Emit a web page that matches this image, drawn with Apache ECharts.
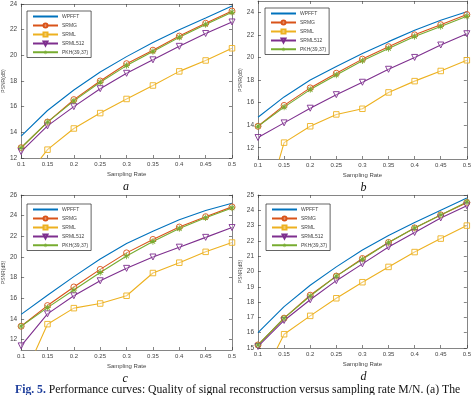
<!DOCTYPE html>
<html lang="en">
<head>
  <meta charset="UTF-8">
  <title>Performance curves</title>
  <script src="https://cdn.jsdelivr.net/npm/echarts@6.0.0/dist/echarts.min.js"></script>
  <style>
    html, body { margin: 0; padding: 0; background: #fff; }
    #main { width: 474px; height: 395px; }
  </style>
</head>
<body>
  <div id="main"></div>
  <script type="text/javascript">
    // sampling rates (x axis)
    var rates = ['0.1', '0.15', '0.2', '0.25', '0.3', '0.35', '0.4', '0.45', '0.5'];
    var names = ['WPFFT', 'SRMG', 'SRML', 'SRML512', 'PKH(39,37)'];

    // panel a
    var wpfftA = [13.7, 15.7, 17.3, 18.7, 19.9, 21.0, 22.0, 22.9, 23.85];
    var srmgA = [12.8, 14.8, 16.55, 18.0, 19.35, 20.4, 21.5, 22.5, 23.45];
    var srmlA = [10.0, 12.65, 14.3, 15.5, 16.6, 17.65, 18.75, 19.6, 20.55];
    var srml512A = [12.5, 14.5, 16.0, 17.4, 18.6, 19.65, 20.7, 21.7, 22.6];
    var pkhA = [12.8, 14.8, 16.45, 17.9, 19.2, 20.3, 21.4, 22.4, 23.35];
    var ticksA = [12, 14, 16, 18, 20, 22, 24];

    // panel b
    var wpfftB = [14.7, 16.5, 18.0, 19.2, 20.35, 21.4, 22.4, 23.3, 24.05];
    var srmgB = [13.9, 15.75, 17.3, 18.6, 19.85, 20.95, 22.0, 22.9, 23.8];
    var srmlB = [4.5, 12.45, 13.9, 14.95, 15.45, 16.9, 17.9, 18.8, 19.75];
    var srml512B = [12.9, 14.2, 15.5, 16.7, 17.8, 18.95, 20.0, 21.1, 22.1];
    var pkhB = [13.9, 15.6, 17.15, 18.45, 19.7, 20.8, 21.85, 22.75, 23.65];
    var ticksB = [12, 14, 16, 18, 20, 22, 24];

    // panel c
    var wpfftC = [14.45, 16.3, 18.1, 19.8, 21.3, 22.5, 23.6, 24.5, 25.2];
    var srmgC = [13.3, 15.3, 17.1, 18.8, 20.4, 21.7, 22.9, 23.9, 24.85];
    var srmlC = [7.8, 13.5, 15.05, 15.5, 16.25, 18.45, 19.45, 20.5, 21.4];
    var srml512C = [11.4, 14.5, 16.25, 17.7, 18.9, 20.0, 20.95, 21.9, 22.85];
    var pkhC = [13.3, 15.1, 16.8, 18.5, 20.1, 21.5, 22.75, 23.8, 24.75];
    var ticksC = [12, 14, 16, 18, 20, 22, 24, 26];

    // panel d
    var wpfftD = [16.0, 17.7, 19.1, 20.3, 21.4, 22.35, 23.2, 24.0, 24.8];
    var srmgD = [15.2, 16.95, 18.45, 19.7, 20.85, 21.9, 22.85, 23.7, 24.5];
    var srmlD = [12.5, 15.9, 17.1, 18.25, 19.3, 20.3, 21.27, 22.15, 23.0];
    var srml512D = [15.1, 16.8, 18.15, 19.4, 20.5, 21.6, 22.55, 23.5, 24.3];
    var pkhD = [15.2, 16.95, 18.4, 19.7, 20.8, 21.9, 22.85, 23.7, 24.55];
    var ticksD = [15, 16, 17, 18, 19, 20, 21, 22, 23, 24, 25];

    var colors = ['#0072BD', '#D95319', '#EDB120', '#7E2F8E', '#77AC30'];
    // asterisk made of four thin filled bars
    var asterisk = 'path://M4.4,0L5.6,0L5.6,10L4.4,10Z' +
      'M0,4.4L10,4.4L10,5.6L0,5.6Z' +
      'M1.08,1.92L1.92,1.08L8.92,8.08L8.08,8.92Z' +
      'M8.08,1.08L8.92,1.92L1.92,8.92L1.08,8.08Z';
    var symbols = ['circle', 'circle', 'rect', 'triangle', asterisk];
    var font = 'Liberation Sans, Arial, sans-serif';
    var axisColor = '#333';

    var panels = [
      { letter: 'a', grid: { left: 20, top: 4, width: 212, height: 154 }, y: [12, 24], ticks: ticksA,
        legend: { left: 27, top: 11 }, data: [wpfftA, srmgA, srmlA, srml512A, pkhA] },
      { letter: 'b', grid: { left: 258, top: 1, width: 211, height: 158 }, y: [11, 25], ticks: ticksB,
        legend: { left: 265, top: 8 }, data: [wpfftB, srmgB, srmlB, srml512B, pkhB] },
      { letter: 'c', grid: { left: 19, top: 195, width: 213, height: 155 }, y: [11, 26], ticks: ticksC,
        legend: { left: 27, top: 204 }, data: [wpfftC, srmgC, srmlC, srml512C, pkhC] },
      { letter: 'd', grid: { left: 258, top: 195, width: 211, height: 153 }, y: [15, 25], ticks: ticksD,
        legend: { left: 266, top: 204 }, data: [wpfftD, srmgD, srmlD, srml512D, pkhD] }
    ];

    var grids = [], xAxes = [], yAxes = [], series = [], legends = [], titles = [];

    // legend entries: hide the marker of the plain line
    var legendData = names.map(function(n, k) {
      return k === 0
        ? { name: n, itemStyle: { opacity: 0 } }
        : { name: n };
    });

    panels.forEach(function(p, i) {
      grids.push(Object.assign({ containLabel: false }, p.grid));

      var tick = { show: true, inside: true, length: 3, lineStyle: { color: axisColor, width: 0.6 } };
      var line = { show: true, onZero: false, lineStyle: { color: axisColor, width: 0.6 } };

      xAxes.push({
        gridIndex: i, type: 'category', data: rates, boundaryGap: false, position: 'bottom',
        axisLine: line, axisTick: tick,
        axisLabel: { color: '#444', fontSize: 6, fontFamily: font, margin: 3 },
        name: 'Sampling Rate', nameLocation: 'middle', nameGap: 13,
        nameTextStyle: { color: '#444', fontSize: 6, fontFamily: font },
        splitLine: { show: false }
      });
      xAxes.push({
        gridIndex: i, type: 'category', data: rates, boundaryGap: false, position: 'top',
        axisLine: line, axisTick: tick, axisLabel: { show: false }, splitLine: { show: false }
      });
      yAxes.push({
        gridIndex: i, type: 'value', min: p.y[0], max: p.y[1], position: 'left',
        axisLine: line,
        axisTick: Object.assign({ customValues: p.ticks }, tick),
        axisLabel: { customValues: p.ticks, color: '#444', fontSize: 6.5, fontFamily: font, margin: 4 },
        name: 'PSNR(dB)', nameLocation: 'middle', nameGap: 12,
        nameTextStyle: { color: '#444', fontSize: 5, fontFamily: font },
        splitLine: { show: false }
      });
      yAxes.push({
        gridIndex: i, type: 'value', min: p.y[0], max: p.y[1], position: 'right',
        axisLine: line,
        axisTick: Object.assign({ customValues: p.ticks }, tick),
        axisLabel: { show: false }, splitLine: { show: false }
      });

      names.forEach(function(n, k) {
        var isStar = k === 4;
        series.push({
          name: n, type: 'line', xAxisIndex: i * 2, yAxisIndex: i * 2,
          data: p.data[k],
          symbol: symbols[k],
          symbolSize: isStar ? 6.5 : (k === 2 ? 5.5 : 6),
          symbolRotate: k === 3 ? 180 : 0,
          showSymbol: k !== 0,
          clip: true,
          animation: false,
          lineStyle: { color: colors[k], width: 1.1 },
          itemStyle: isStar
            ? { color: colors[k], borderWidth: 0 }
            : { color: 'rgba(255,255,255,0.35)', borderColor: colors[k], borderWidth: 0.9 }
        });
      });

      legends.push({
        data: legendData, orient: 'vertical', left: p.legend.left, top: p.legend.top,
        itemWidth: 25, itemHeight: 5, itemGap: 3,
        padding: [2.5, 3, 2.5, 5],
        borderColor: '#222', borderWidth: 0.7, backgroundColor: '#fff',
        textStyle: { fontSize: 5, lineHeight: 5.5, color: '#444', fontFamily: font, padding: [0, 0, 0, -1] }
      });

      titles.push({
        text: p.letter, padding: 0,
        left: p.grid.left + p.grid.width / 2 - 3,
        top: p.grid.top + p.grid.height + 23,
        textStyle: { fontFamily: 'Liberation Serif, serif', fontStyle: 'italic', fontWeight: 'normal', fontSize: 12, color: '#111' }
      });
    });

    titles.push({
      text: '{b|Fig. 5.} Performance curves: Quality of signal reconstruction versus sampling rate M/N. (a) The',
      left: 15, top: 384, padding: 0,
      textStyle: {
        fontFamily: 'Liberation Serif, serif', fontWeight: 'normal', fontSize: 11.7, color: '#111',
        rich: { b: { fontFamily: 'Liberation Serif, serif', fontWeight: 'bold', fontSize: 11.7, color: '#1f3f9c' } }
      }
    });

    var myChart = echarts.init(document.getElementById('main'), null, { renderer: 'canvas' });
    myChart.setOption({
      animation: false,
      backgroundColor: '#fff',
      title: titles,
      legend: legends,
      grid: grids,
      xAxis: xAxes,
      yAxis: yAxes,
      series: series
    });
  </script>
</body>
</html>
